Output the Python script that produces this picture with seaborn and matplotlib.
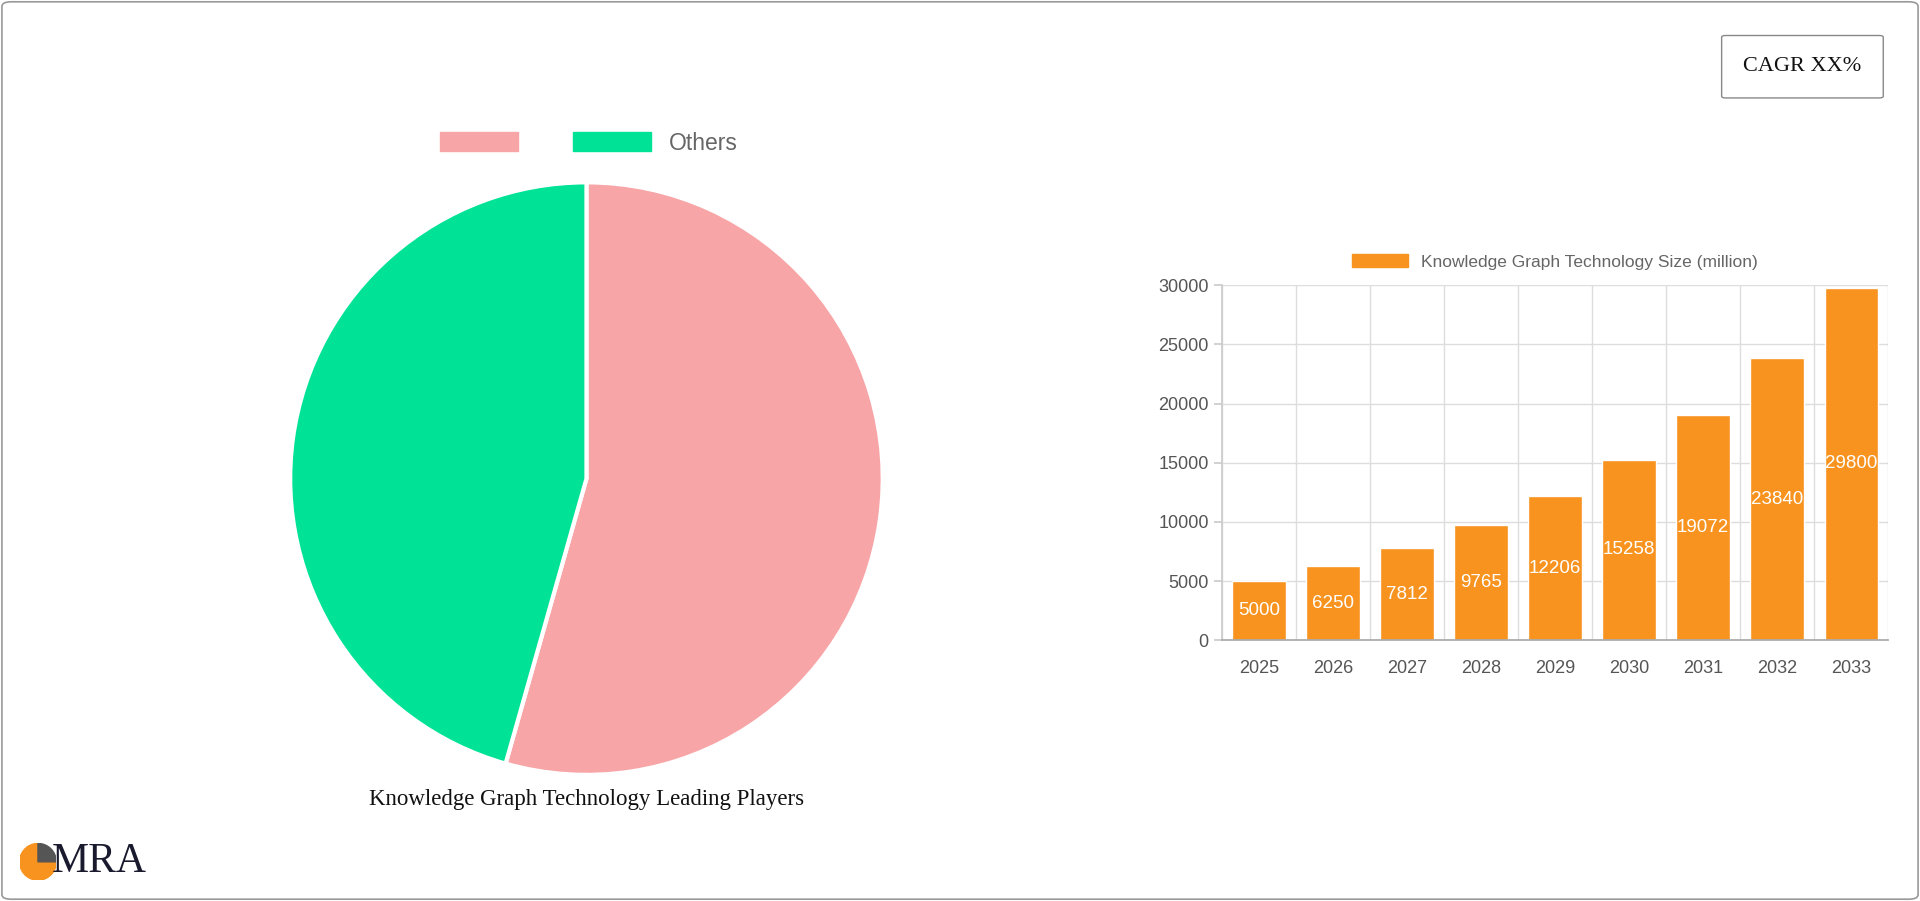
import matplotlib
matplotlib.use("Agg")
import matplotlib.pyplot as plt
import seaborn as sns
import pandas as pd
from matplotlib.patches import FancyBboxPatch, Patch, Wedge

years = ["2025","2026","2027","2028","2029","2030","2031","2032","2033"]
sizes = [5000,6250,7812,9765,12206,15258,19072,23840,29800]
pie_labels = ["", "Others"]
pie_values = [54.4, 45.6]
pie_colors = ["#f8a5a7", "#00e396"]
bar_color = "#f7931e"

sns.set_theme(style="white")
plt.rcParams['font.family'] = ['Liberation Sans', 'DejaVu Sans']

W, H = 1568, 736
fig = plt.figure(figsize=(19.2, 9.01), dpi=100)
fig.patch.set_facecolor("white")
fig.patches.append(FancyBboxPatch((0.001, 0.002), 0.998, 0.996, boxstyle="round,pad=0,rounding_size=0.005",
                                  transform=fig.transFigure, fill=False, ec="#999999", lw=1.2))

# Pie
pax = fig.add_axes([0.1511, 0.140, 0.3087, 0.6576])
pax.pie(pie_values, colors=pie_colors, startangle=90, counterclock=False,
        wedgeprops=dict(edgecolor="white", linewidth=3))
pax.set_xlim(-1, 1); pax.set_ylim(-1, 1)
pax.set_aspect("equal")
handles = [Patch(color=c, label=l) for c, l in zip(pie_colors, pie_labels)]
fig.legend(handles=handles, loc="center", bbox_to_anchor=(481/W, 1-117/H), ncol=2, frameon=False,
           fontsize=16.5, handlelength=3.4, handleheight=0.9, columnspacing=1.6, labelcolor="#666666")
fig.text(479/W, 1-653/H, "Knowledge Graph Technology Leading Players", ha="center", va="center",
         fontsize=16.5, family=["Liberation Serif", "DejaVu Serif"], color="#111111")

# Bars
bax = fig.add_axes([998/W, 1-523/H, 544/W, 290/H])
df = pd.DataFrame({"year": years, "size": sizes})
sns.barplot(data=df, x="year", y="size", color=bar_color, width=0.72, saturation=1, ax=bax)
bax.set_ylim(0, 30000)
bax.set_yticks(range(0, 30001, 5000))
bax.set_xlabel(""); bax.set_ylabel("")
bax.set_xticks([i + 0.5 for i in range(-1, 9)], minor=True)
bax.grid(True, which="minor", axis="x", color="#dddddd", lw=1)
bax.grid(True, which="major", axis="y", color="#dddddd", lw=1)
bax.tick_params(axis="x", which="minor", length=12, color="#cccccc")
bax.tick_params(axis="x", which="major", length=0, labelsize=13, labelcolor="#555555", pad=14)
bax.tick_params(axis="y", length=6, color="#cccccc", labelsize=13, labelcolor="#555555", left=True)
for s in ["top", "right"]:
    bax.spines[s].set_visible(False)
bax.spines["left"].set_color("#cccccc"); bax.spines["bottom"].set_color("#aaaaaa")
bax.set_xlim(-0.5, 8.5)
for i, v in enumerate(sizes):
    bax.text(i, v / 2, str(v), ha="center", va="center", color="white", fontsize=13.5)
bax.legend(handles=[Patch(color=bar_color, label="Knowledge Graph Technology Size (million)")],
           loc="lower center", bbox_to_anchor=(0.5, 1.0), frameon=False, fontsize=12.5,
           handlelength=3.2, labelcolor="#666666")

# CAGR box
fig.patches.append(FancyBboxPatch((1406/W, 1-80/H), 132/W, 51/H, boxstyle="round,pad=0,rounding_size=0.002",
                                  transform=fig.transFigure, fill=False, ec="#888888", lw=1))
fig.text(1472/W, 1-54/H, "CAGR XX%", ha="center", va="center", fontsize=16,
         family=["Liberation Serif", "DejaVu Serif"], color="#111111")

# Logo
lax = fig.add_axes([16/W, 1-719/H, 30/W, 30/H])
lax.add_patch(Wedge((0, 0), 1, 90, 360, color=bar_color))
lax.add_patch(Wedge((0, 0), 1, 0, 90, color="#555555"))
lax.set_xlim(-1, 1); lax.set_ylim(-1, 1); lax.set_aspect("equal"); lax.axis("off")
fig.text(42/W, 1-704/H, "MRA", ha="left", va="center", fontsize=30,
         family=["Liberation Serif", "DejaVu Serif"], color="#1a1a2e")

fig.savefig("out.png", dpi=100)
